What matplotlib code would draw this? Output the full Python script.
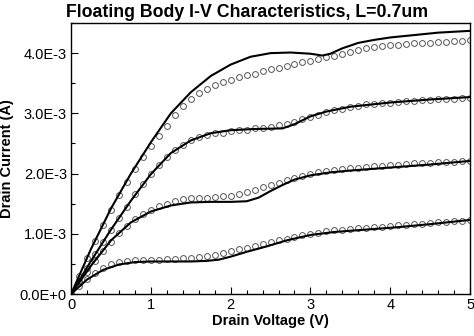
import matplotlib
matplotlib.use("Agg")
import matplotlib.pyplot as plt
from matplotlib.ticker import MultipleLocator, FixedLocator, FixedFormatter

plt.rcParams['font.family'] = ['Liberation Sans', 'DejaVu Sans']

# ---- simulation (solid lines) ----
s1_v = [0, .25, .5, .75, 1.0, 1.25, 1.5, 1.75, 2.0, 2.25, 2.5, 2.75, 3.0, 3.15, 3.25, 3.4, 3.6, 3.8, 4.0, 4.3, 4.6, 5.0]
s1_i = [0, .75, 1.42, 2.0, 2.52, 3.0, 3.35, 3.62, 3.81, 3.94, 4.0, 4.01, 3.99, 3.96, 3.99, 4.08, 4.17, 4.22, 4.26, 4.30, 4.34, 4.37]

s2_v = [0, .25, .5, .75, 1.0, 1.25, 1.5, 1.75, 2.0, 2.3, 2.65, 2.8, 3.0, 3.2, 3.5, 4.0, 4.5, 5.0]
s2_i = [0, .55, 1.07, 1.55, 1.99, 2.34, 2.55, 2.67, 2.72, 2.74, 2.75, 2.82, 2.95, 3.03, 3.11, 3.18, 3.23, 3.27]

s3_v = [0, .25, .5, .75, 1.0, 1.25, 1.5, 1.75, 2.0, 2.2, 2.35, 2.5, 2.65, 2.8, 3.0, 3.25, 3.5, 4.0, 4.5, 5.0]
s3_i = [0, .47, .89, 1.19, 1.37, 1.47, 1.52, 1.53, 1.53, 1.54, 1.60, 1.71, 1.81, 1.90, 1.97, 2.02, 2.05, 2.10, 2.15, 2.21]

s4_v = [0, .2, .4, .6, .8, 1.0, 1.5, 1.7, 1.85, 2.0, 2.2, 2.45, 2.7, 3.0, 3.3, 3.7, 4.1, 4.5, 5.0]
s4_i = [0, .24, .40, .49, .53, .54, .54, .55, .57, .62, .70, .79, .89, .98, 1.03, 1.07, 1.11, 1.16, 1.23]

# ---- measurement (circles), read every 0.1 V ----
m_v = [round(0.1 * k, 1) for k in range(51)]
m1_i = [0, .30, .60, .88, 1.15, 1.40, 1.64, 1.86, 2.07, 2.27, 2.46, 2.63, 2.79, 2.97, 3.12,
        3.23, 3.33, 3.41, 3.47, 3.52, 3.56, 3.60, 3.63, 3.66, 3.70, 3.73, 3.76, 3.79, 3.82, 3.85,
        3.87, 3.90, 3.93, 3.96, 3.99, 4.02, 4.05, 4.08, 4.10, 4.12, 4.13, 4.14, 4.15, 4.16, 4.16,
        4.17, 4.18, 4.19, 4.20, 4.20, 4.21]
m2_i = [0, .22, .44, .66, .87, 1.07, 1.26, 1.44, 1.66, 1.83, 1.99, 2.14, 2.28, 2.39, 2.48,
        2.55, 2.60, 2.64, 2.67, 2.68, 2.70, 2.72, 2.73, 2.75, 2.76, 2.78, 2.80, 2.83, 2.86, 2.90,
        2.94, 2.98, 3.02, 3.05, 3.08, 3.11, 3.13, 3.15, 3.16, 3.17, 3.18, 3.19, 3.20, 3.21, 3.22,
        3.22, 3.23, 3.24, 3.24, 3.25, 3.25]
m3_i = [0, .19, .37, .55, .72, .87, 1.01, 1.13, 1.24, 1.33, 1.40, 1.46, 1.50, 1.54, 1.57,
        1.59, 1.60, 1.60, 1.61, 1.62, 1.63, 1.66, 1.69, 1.73, 1.77, 1.81, 1.85, 1.89, 1.93, 1.96,
        1.99, 2.02, 2.04, 2.06, 2.08, 2.09, 2.10, 2.11, 2.12, 2.13, 2.14, 2.15, 2.16, 2.17, 2.17,
        2.18, 2.19, 2.20, 2.20, 2.21, 2.21]
m4_i = [0, .13, .25, .35, .43, .49, .53, .55, .56, .57, .57, .57, .58, .58, .59,
        .60, .61, .63, .65, .68, .71, .74, .77, .80, .83, .86, .89, .92, .95, .98,
        1.00, 1.02, 1.04, 1.06, 1.07, 1.08, 1.09, 1.10, 1.11, 1.12, 1.13, 1.14, 1.15, 1.16, 1.17,
        1.18, 1.19, 1.20, 1.21, 1.22, 1.23]

y_ticks = [0, 1e-3, 2e-3, 3e-3, 4e-3]
y_tick_labels = ["0.0E+0", "1.0E-3", "2.0E-3", "3.0E-3", "4.0E-3"]
x_ticks = [0, 1, 2, 3, 4, 5]

fig = plt.figure(figsize=(4.74, 3.36), dpi=100)
ax = fig.add_axes([0.150, 0.125, 0.8416, 0.8065])

for mi in (m1_i, m2_i, m3_i, m4_i):
    ax.plot(m_v, [v * 1e-3 for v in mi], linestyle='none', marker='o', markersize=4.2,
            markerfacecolor='none', markeredgecolor='#555555', markeredgewidth=0.7, zorder=2)
for sv, si in ((s1_v, s1_i), (s2_v, s2_i), (s3_v, s3_i), (s4_v, s4_i)):
    ax.plot(sv, [v * 1e-3 for v in si], color='black', linewidth=1.5, zorder=3)

ax.set_xlim(0, 5)
ax.set_ylim(0, 4.5e-3)
ax.xaxis.set_major_locator(FixedLocator(x_ticks))
ax.xaxis.set_minor_locator(MultipleLocator(0.2))
ax.yaxis.set_major_locator(FixedLocator(y_ticks))
ax.yaxis.set_major_formatter(FixedFormatter(y_tick_labels))
ax.yaxis.set_minor_locator(MultipleLocator(0.5e-3))
ax.tick_params(which='both', direction='in', top=False, right=False, labelsize=10.5, width=0.8)
ax.tick_params(which='major', length=5, pad=3)
ax.tick_params(which='minor', length=3)
for sp in ax.spines.values():
    sp.set_linewidth(1.0)

ax.set_xlabel("Drain Voltage (V)", fontsize=10.5, fontweight='bold', labelpad=1)
ax.set_ylabel("Drain Current (A)", fontsize=10.5, fontweight='bold', labelpad=4)
fig.text(0.521, 0.962, "Floating Body I-V Characteristics, L=0.7um", fontsize=12.8,
         fontweight='bold', ha='center', va='center')

fig.savefig("out.png", dpi=100)
